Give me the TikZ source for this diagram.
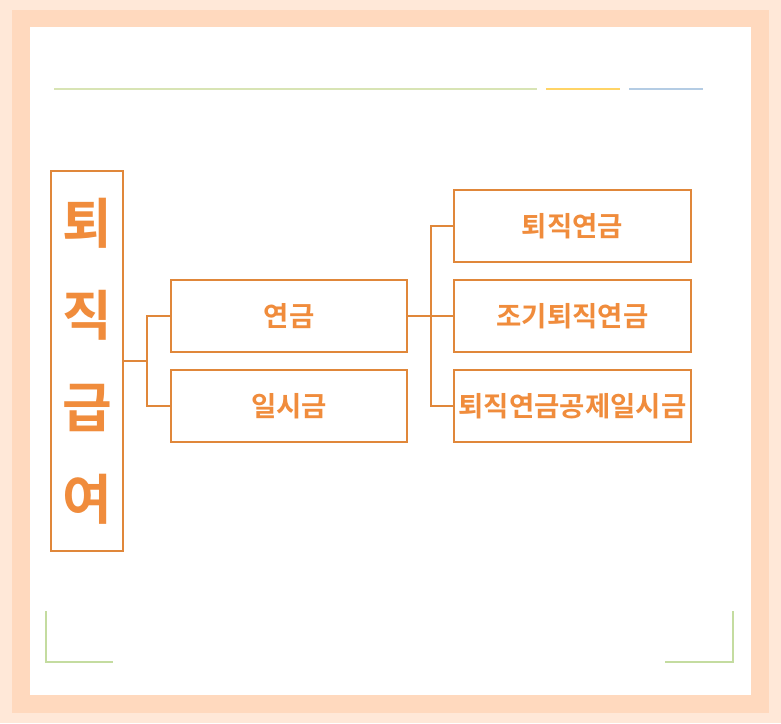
\documentclass[tikz,border=0pt]{standalone}
\usepackage{fontspec}
\newfontfamily\kr{Noto Sans CJK KR Bold}
\usetikzlibrary{positioning}
\definecolor{boxline}{HTML}{E0873A}
\definecolor{boxtext}{HTML}{F08C3C}
\definecolor{glow}{HTML}{FFD9BE}
\definecolor{topgreen}{HTML}{D8E4B4}
\definecolor{topyellow}{HTML}{FFD466}
\definecolor{topblue}{HTML}{B4CCE4}
\definecolor{cornergreen}{HTML}{C4DCA0}
\tikzset{
  item/.style={draw=boxline, line width=1.6pt, minimum width=236pt, minimum height=72pt,
    text=boxtext, font=\kr\fontsize{27.5}{30}\selectfont, inner sep=0pt},
  link/.style={draw=boxline, line width=1.6pt}
}
\begin{document}
\begin{tikzpicture}[x=1pt,y=-1pt]
  \useasboundingbox (0,0) rectangle (781,723);
  % frame
  \fill[glow!60] (0,0) rectangle (781,723);
  \fill[glow] (12,10) rectangle (769,713);
  \fill[white] (30,27) rectangle (751,695);
  \draw[line width=2.5pt, topgreen] (54,89) -- (537,89);
  \draw[line width=2.5pt, topyellow] (546,89) -- (620,89);
  \draw[line width=2.5pt, topblue] (629,89) -- (703,89);
  \draw[line width=1.2pt, cornergreen] (46,611) -- (46,662) -- (113,662);
  \draw[line width=1.2pt, cornergreen] (733,611) -- (733,662) -- (665,662);
  % nodes
  \node[draw=boxline, line width=1.6pt, minimum width=72pt, minimum height=380pt, inner sep=0pt,
    text=boxtext, align=center, font=\kr\fontsize{54}{92}\selectfont] (main) at (87,361)
    {퇴\\직\\급\\여};
  \node[item] (pension) at (289,316) {연금};
  \node[item] (lump) at (289,406) {일시금};
  \node[item, minimum width=237pt] (ret) at (572.5,226) {퇴직연금};
  \node[item, minimum width=237pt] (early) at (572.5,316) {조기퇴직연금};
  \node[item, minimum width=237pt] (ded) at (572.5,406) {퇴직연금공제일시금};
  % connectors
  \coordinate (j1) at (147,361);
  \coordinate (j2) at (431,316);
  \draw[link] (main.east |- j1) -- (j1);
  \draw[link] (pension.west) -| (j1) |- (lump.west);
  \draw[link] (pension.east) -- (early.west);
  \draw[link] (ret.west) -| (j2) |- (ded.west);
\end{tikzpicture}
\end{document}
